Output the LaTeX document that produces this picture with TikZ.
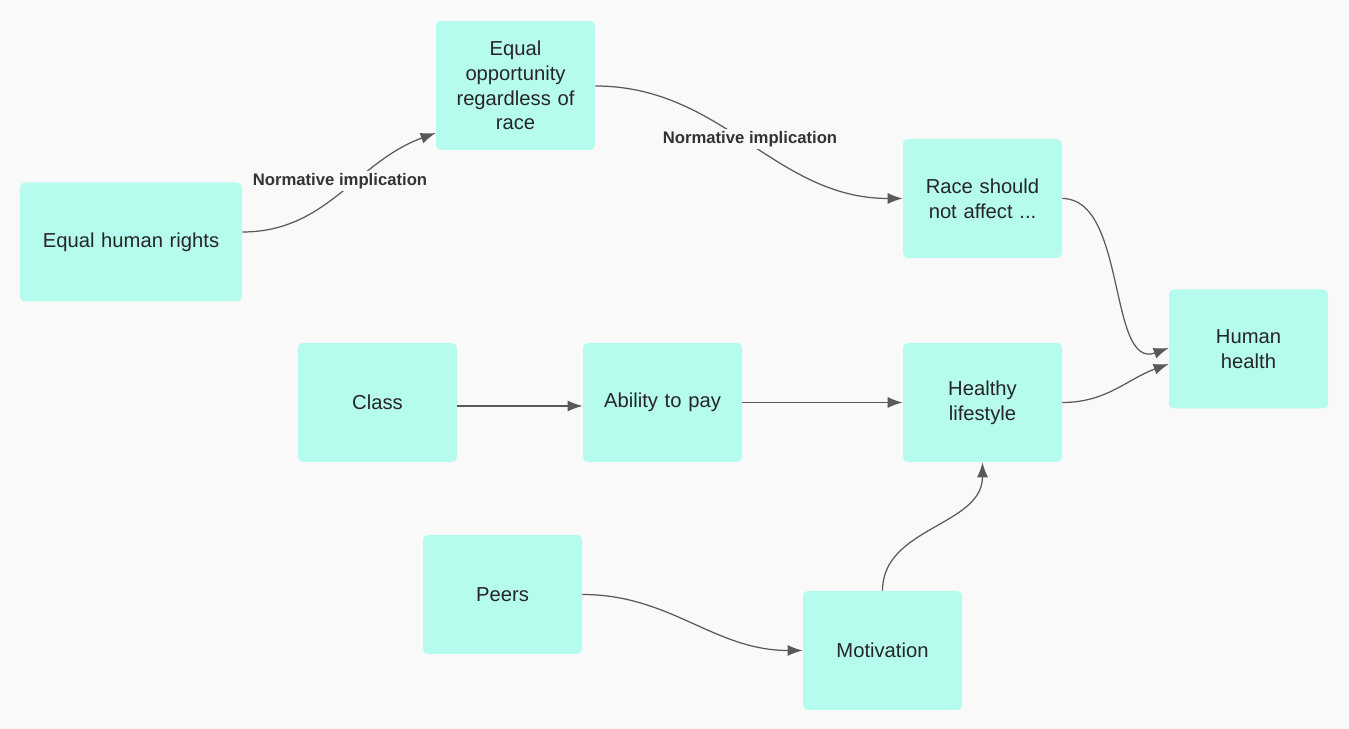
\documentclass[tikz,border=0pt]{standalone}
\usepackage{fontspec}
\setmainfont{Liberation Sans}
\usetikzlibrary{arrows.meta}
\definecolor{boxfill}{HTML}{B5FBEE}
\definecolor{bgcol}{HTML}{F9F9F9}
\definecolor{linecol}{HTML}{595959}
\begin{document}
\begin{tikzpicture}[x=0.2mm, y=-0.2mm,
    box/.style={rectangle, rounded corners=1mm, fill=boxfill, minimum width=31.8mm, minimum height=23.8mm, align=center, text width=29mm, font=\fontsize{11.5}{14}\selectfont, text=black!85},
    arr/.style={-{Latex[length=3mm,width=2.2mm]}, draw=linecol, line width=0.7pt},
    lbl/.style={font=\bfseries\fontsize{9.5}{11}\selectfont, text=black!80, fill=bgcol, inner sep=1pt}
]
    \fill[bgcol] (0,0) rectangle (1349,729);
    \node[box, minimum width=44.4mm, text width=42mm] at (131,242) (ehr) {Equal human rights};
    \node[box, minimum height=25.8mm] at (515.5,85.5) (eo) {Equal\\opportunity\\regardless of\\race};
    \node[box] at (982.5,198.5) (race) {Race should\\not affect ...};
    \node[box] at (1248.5,349) (hh) {Human\\health};
    \node[box] at (377.5,402.5) (cls) {Class};
    \node[box] at (662.5,402.5) (pay) {Ability to pay};
    \node[box] at (982.5,402.5) (life) {Healthy\\lifestyle};
    \node[box] at (502.5,594.5) (peers) {Peers};
    \node[box] at (882.5,650.5) (mot) {Motivation};

    \draw[arr] ([yshift=2mm]ehr.east) to[out=0, in=200] ([yshift=-9.5mm]eo.west);
    \node[lbl] at (340,181) {Normative implication};
    \draw[arr] ([yshift=0mm]eo.east |- 0,86) to[out=0, in=180] (race.west);
    \node[lbl] at (750,139) {Normative implication};
    \draw[arr] (race.east) to[out=0, in=200, looseness=0.9] ([yshift=0.2mm]hh.west);
    \draw[arr] (life.east) to[out=0, in=200] ([yshift=-3mm]hh.west);
    \draw[arr] ([yshift=-0.7mm]cls.east) -- ([yshift=-0.7mm]pay.west);
    \draw[arr] (pay.east) -- (life.west);
    \draw[arr] (peers.east) to[out=0, in=180] (mot.west);
    \draw[arr] (mot.north) to[out=90, in=-90] (life.south);
\end{tikzpicture}
\end{document}
